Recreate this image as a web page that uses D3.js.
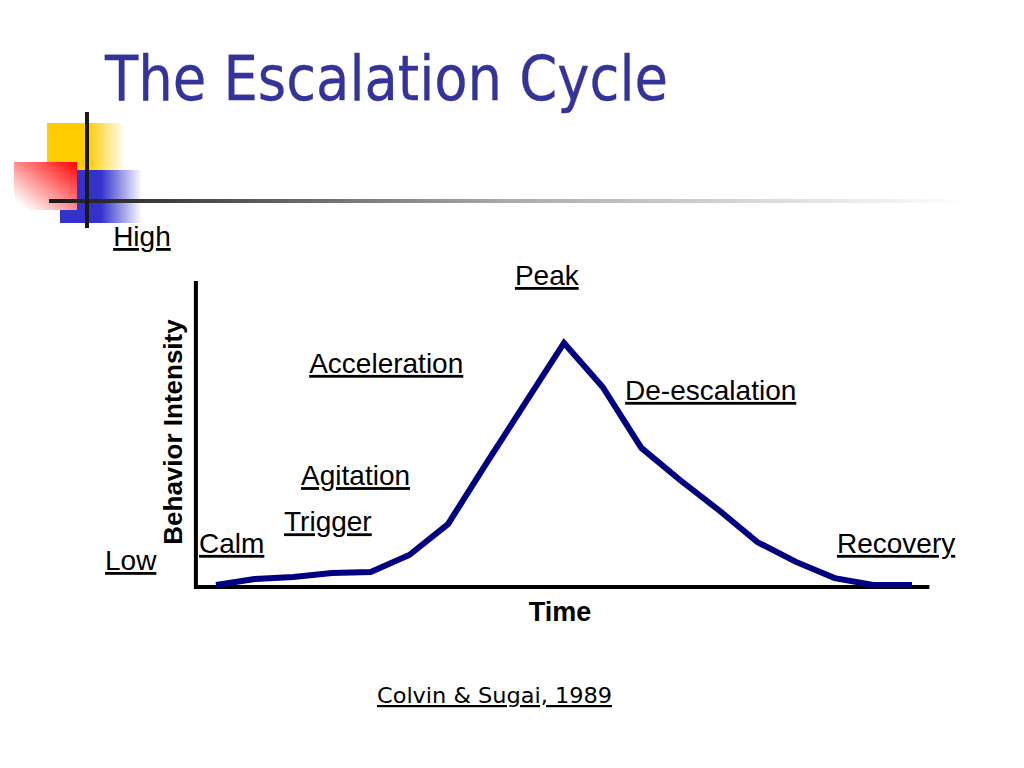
<!DOCTYPE html>
<html>
<head>
<meta charset="utf-8">
<script src="https://cdn.jsdelivr.net/npm/d3@7"></script>
<style>
  body { margin: 0; background: #fff; }
  svg text { font-family: "Liberation Sans", Arial, sans-serif; }
</style>
</head>
<body>
<div id="vis"></div>
<script>
// time steps of the cycle and the behaviour intensity at each one (0 = low, 100 = high)
var timeSteps = d3.range(19);
var intensity = [0, 2, 2.7, 4, 4.3, 10, 20.3, 40.7, 60.7, 80.7, 66, 45.7, 35, 25, 14.3, 7.7, 2.3, 0, 0];

// phase names, and where each sits in (time, intensity) units
var phases = ["Calm", "Trigger", "Agitation", "Acceleration", "Peak", "De-escalation", "Recovery"];
var phaseTime = [-0.44, 1.76, 2.2, 2.41, 7.73, 10.58, 16.06];
var phaseLevel = [10.7, 17.9, 33.3, 70.7, 100, 61.7, 10.7];

var levelNames = ["High", "Low"];
var levelTime = [-2.66, -2.87];
var levelValue = [113, 5];

var title = "The Escalation Cycle";
var yTitle = "Behavior Intensity";
var xTitle = "Time";
var source = "Colvin & Sugai, 1989";

var elem_width = 1024;
var elem_height = 768;
var svg = d3.select("#vis")
  .append("svg")
  .attr("width", elem_width)
  .attr("height", elem_height);

var defs = svg.append("defs");

function hGrad(id, color, solidTo) {
  var g = defs.append("linearGradient").attr("id", id)
    .attr("x1", 0).attr("y1", 0).attr("x2", 1).attr("y2", 0);
  g.append("stop").attr("offset", 0).attr("stop-color", color);
  g.append("stop").attr("offset", solidTo).attr("stop-color", color);
  g.append("stop").attr("offset", 1).attr("stop-color", color).attr("stop-opacity", 0);
}
hGrad("yellowFade", "#ffcc00", 0.52);
hGrad("blueFade", "#3333cc", 0.5);

var red = defs.append("linearGradient").attr("id", "redFade")
  .attr("x1", 0).attr("y1", 1).attr("x2", 1).attr("y2", 0);
red.append("stop").attr("offset", 0.1).attr("stop-color", "#ffffff");
red.append("stop").attr("offset", 0.95).attr("stop-color", "#ff1010");

var rule = defs.append("linearGradient").attr("id", "ruleFade")
  .attr("x1", 0).attr("y1", 0).attr("x2", 1).attr("y2", 0);
rule.append("stop").attr("offset", 0).attr("stop-color", "#1a1a1a");
rule.append("stop").attr("offset", 0.5).attr("stop-color", "#aaaaaa");
rule.append("stop").attr("offset", 1).attr("stop-color", "#ffffff");

// slide decoration
var deco = svg.append("g");
deco.append("rect").attr("x", 47).attr("y", 123).attr("width", 78).attr("height", 47).attr("fill", "url(#yellowFade)");
deco.append("rect").attr("x", 60).attr("y", 170).attr("width", 82).attr("height", 53).attr("fill", "url(#blueFade)");
deco.append("rect").attr("x", 14).attr("y", 162).attr("width", 63).attr("height", 48).attr("fill", "url(#redFade)");
deco.append("rect").attr("x", 49).attr("y", 199).attr("width", 916).attr("height", 4).attr("fill", "url(#ruleFade)");
deco.append("rect").attr("x", 85).attr("y", 112).attr("width", 4).attr("height", 116).attr("fill", "#1a1a1a");

svg.append("text")
  .attr("x", 105).attr("y", 100)
  .attr("textLength", 563).attr("lengthAdjust", "spacingAndGlyphs")
  .style("font-family", "Tahoma, 'DejaVu Sans Condensed', 'DejaVu Sans', sans-serif")
  .style("font-size", "62px")
  .attr("fill", "#333399")
  .attr("stroke", "#333399")
  .attr("stroke-width", 0.3)
  .text(title);

var scales = {
  x: d3.scaleLinear().domain([0, 18]).range([216, 912]),
  y: d3.scaleLinear().domain([0, 100]).range([585, 285])
};

// axes
svg.append("path")
  .attr("d", d3.line()([
    [scales.x(-0.52), scales.y(101.3)],
    [scales.x(-0.52), scales.y(-0.7)],
    [scales.x(18.45), scales.y(-0.7)]
  ]))
  .attr("fill", "none")
  .attr("stroke", "#000")
  .attr("stroke-width", 4)
  .attr("stroke-linejoin", "miter");

svg.append("path")
  .datum(timeSteps)
  .attr("d", d3.line()
    .x(function(d) { return scales.x(d); })
    .y(function(d, i) { return scales.y(intensity[i]); }))
  .attr("fill", "none")
  .attr("stroke", "#000080")
  .attr("stroke-width", 6)
  .attr("stroke-linejoin", "miter");

svg.selectAll(".phase")
  .data(phases).enter()
  .append("text")
  .attr("class", "phase")
  .attr("x", function(d, i) { return scales.x(phaseTime[i]); })
  .attr("y", function(d, i) { return scales.y(phaseLevel[i]); })
  .style("font-size", "28px")
  .style("text-decoration", "underline")
  .attr("fill", "#000")
  .text(function(d) { return d; });

svg.selectAll(".level")
  .data(levelNames).enter()
  .append("text")
  .attr("class", "level")
  .attr("x", function(d, i) { return scales.x(levelTime[i]); })
  .attr("y", function(d, i) { return scales.y(levelValue[i]); })
  .style("font-size", "28px")
  .style("text-decoration", "underline")
  .attr("fill", "#000")
  .text(function(d) { return d; });

svg.append("text")
  .attr("transform", "translate(182," + scales.y(51) + ") rotate(-90)")
  .attr("text-anchor", "middle")
  .style("font-size", "26px")
  .style("font-weight", "bold")
  .text(yTitle);

svg.append("text")
  .attr("x", scales.x(8.9)).attr("y", 621)
  .attr("text-anchor", "middle")
  .style("font-size", "27px")
  .style("font-weight", "bold")
  .text(xTitle);

svg.append("text")
  .attr("x", 377).attr("y", 703)
  .attr("textLength", 235).attr("lengthAdjust", "spacingAndGlyphs")
  .style("font-family", "Tahoma, 'DejaVu Sans Condensed', 'DejaVu Sans', sans-serif")
  .style("font-size", "22px")
  .style("text-decoration", "underline")
  .text(source);
</script>
</body>
</html>
